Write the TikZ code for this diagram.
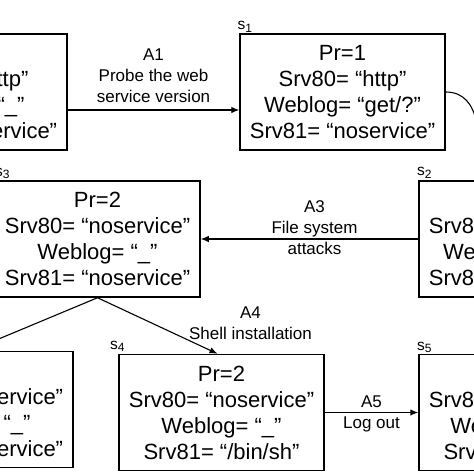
\documentclass[tikz,border=0pt]{standalone}
\usepackage{fontspec}
\setmainfont{Liberation Sans}
\usetikzlibrary{arrows.meta,calc}
\newcommand\stsub[1]{s\raisebox{-2.5pt}{\fontsize{12}{12}\selectfont #1}}
\tikzset{
  state/.style={draw=black, line width=1.5pt, minimum width=205pt, minimum height=116pt,
    inner sep=0pt, align=center, font=\fontsize{22}{26}\selectfont},
  act/.style={draw=black, line width=1.1pt, -{Latex[length=8pt,width=6.5pt]}},
  lbl/.style={align=center, inner sep=0pt, font=\fontsize{17}{21}\selectfont},
  slbl/.style={anchor=base west, inner sep=0pt, font=\fontsize{15.5}{18}\selectfont}
}
\begin{document}
\begin{tikzpicture}[x=1pt,y=-1pt]
\useasboundingbox (0,0) rectangle (474,474);
\fill[white] (0,0) rectangle (474,474);
\clip (0,0) rectangle (474,474);

% states
\node[state] (s0) at (-35.5,92) {Pr=1\\Srv80= “http”\\Weblog= “\_”\\Srv81= “noservice”};
\node[state] (s1) at (342.5,92) {Pr=1\\Srv80= “http”\\Weblog= “get/?”\\Srv81= “noservice”};
\node[state] (s3) at (97.5,239) {Pr=2\\Srv80= “noservice”\\Weblog= “\_”\\Srv81= “noservice”};
\node[state] (s2) at (521.5,239) {Pr=2\\Srv80= “noservice”\\Weblog= “get/?”\\Srv81= “noservice”};
\node[state] (s4) at (221.5,412.5) {Pr=2\\Srv80= “noservice”\\Weblog= “\_”\\Srv81= “/bin/sh”};
\node[state] (s5) at (521.5,412.5) {Pr=2\\Srv80= “noservice”\\Weblog= “exit”\\Srv81= “/bin/sh”};
\node[state] (s6) at (-29.5,409.5) {Pr=2\\Srv80= “noservice”\\Weblog= “\_”\\Srv81= “noservice”};

% state labels
\node[slbl] (l1) at (237.5,29.5) {\stsub{1}};
\node[slbl] (l2) at (417,175.5) {\stsub{2}};
\node[slbl] (l3) at (-5,176) {\stsub{3}};
\node[slbl] (l4) at (110,349) {\stsub{4}};
\node[slbl] (l5) at (417,350) {\stsub{5}};

% actions
\draw[act] ([yshift=-18pt]s0.east) -- node[lbl, yshift=34pt] {A1\\Probe the web\\service version} ([yshift=-18pt]s1.west);
\draw[act] (s1.east) to[out=0,in=90] ([xshift=-42pt]s2.north);
\draw[act] (s2.west) -- node[lbl, xshift=5pt, yshift=11pt] {A3\\File system\\attacks} (s3.east);
\draw[act] (s3.south) -- (s6.north);
\draw[act] (s3.south) -- node[lbl, xshift=93pt, yshift=2.5pt] {A4\\Shell installation} ([xshift=-4pt]s4.north);
\draw[act] (s4.east) -- node[lbl, yshift=-1pt] {A5\\Log out} (s5.west);
\end{tikzpicture}
\end{document}
